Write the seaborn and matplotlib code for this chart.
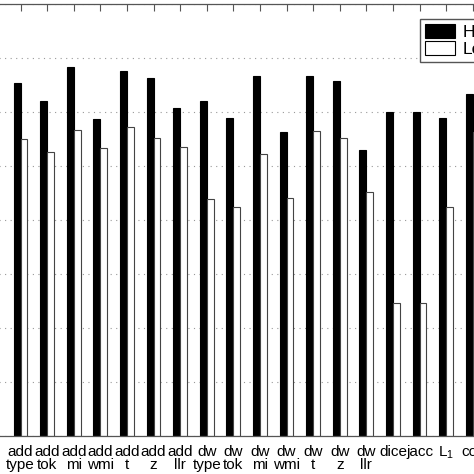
import pandas as pd
import matplotlib
matplotlib.use("Agg")
import matplotlib.pyplot as plt
import seaborn as sns

# categories (x tick labels)
measures = ["add\ntype", "add\ntok", "add\nmi", "add\nwmi", "add\nt", "add\nz", "add\nllr",
            "dw\ntype", "dw\ntok", "dw\nmi", "dw\nwmi", "dw\nt", "dw\nz", "dw\nllr",
            "dice", "jacc", "L$_1$", "cos"]

# series values
high_vals = [0.654, 0.621, 0.684, 0.588, 0.677, 0.664, 0.607,
             0.621, 0.589, 0.667, 0.563, 0.667, 0.658, 0.530,
             0.600, 0.600, 0.589, 0.634]
low_vals = [0.550, 0.526, 0.567, 0.534, 0.573, 0.552, 0.535,
            0.439, 0.424, 0.522, 0.441, 0.565, 0.552, 0.452,
            0.246, 0.246, 0.424, 0.563]
groups = ["High", "Low"]

df = pd.DataFrame({
    "measure": measures * 2,
    "score": high_vals + low_vals,
    "group": [groups[0]] * len(measures) + [groups[1]] * len(measures),
})

sns.set_style("white")
plt.rcParams["font.family"] = ["Liberation Sans", "DejaVu Sans"]
plt.rcParams["mathtext.default"] = "regular"
plt.rcParams["text.color"] = "black"

fig = plt.figure(figsize=(4.74, 4.74), dpi=100)
# axes run past both figure edges, as in the cropped reference
ax = fig.add_axes([-6.1 / 474, 38.5 / 474, 505.4 / 474, 431.2 / 474])

sns.barplot(data=df, x="measure", y="score", hue="group",
            palette=["black", "white"], width=0.52, saturation=1,
            edgecolor="black", linewidth=0.8, ax=ax)

for bar in ax.containers[1]:
    bar.set_edgecolor("#444444")

ax.set_xlim(-1, 18)
ax.set_ylim(0, 0.8)
ax.set_yticks([i / 10 for i in range(9)])
ax.set_yticklabels([])
ax.set_xlabel("")
ax.set_ylabel("")

ax.set_axisbelow(True)
ax.yaxis.grid(True, linestyle=(0, (1, 4)), color="#999999", linewidth=0.8)
ax.xaxis.grid(False)

for side in ["top", "bottom", "left", "right"]:
    ax.spines[side].set_color("#555555")
    ax.spines[side].set_linewidth(0.9)

ax.tick_params(axis="x", which="both", top=True, bottom=True, direction="in",
               length=5, width=0.8, color="#555555", pad=6.5, labelsize=11,
               labelcolor="black")
ax.tick_params(axis="y", left=False, right=False)
for lbl in ax.get_xticklabels():
    lbl.set_linespacing(0.95)

handles, labels = ax.get_legend_handles_labels()
ax.legend(handles, labels, loc="upper left",
          bbox_to_anchor=(420 / 474, 1 - 19 / 474), bbox_transform=fig.transFigure,
          borderaxespad=0, fancybox=False, framealpha=1, edgecolor="#555555",
          fontsize=12.5, handlelength=1.7, handleheight=0.85, handletextpad=0.45,
          labelspacing=0.05, borderpad=0.3, labelcolor="black")

fig.savefig("out.png", dpi=100)
